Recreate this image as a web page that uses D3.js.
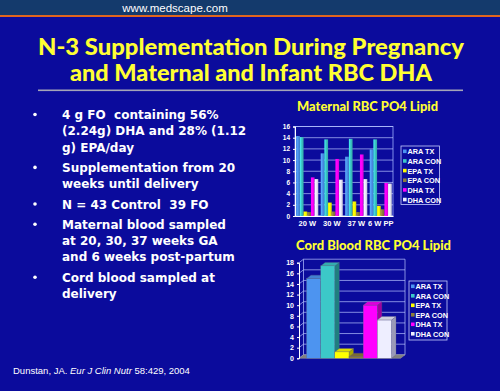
<!DOCTYPE html>
<html><head><meta charset="utf-8">
<script src="https://cdn.jsdelivr.net/npm/d3@7"></script>
<style>html,body{margin:0;padding:0;background:#0b0b9c;}svg{display:block;}text{white-space:pre;}</style>
</head><body>
<script>
// ---- data ----
const seriesNames = ["ARA TX","ARA CON","EPA TX","EPA CON","DHA TX","DHA CON"];
const seriesColors = ["#4d94f0","#3cc8c8","#ffff00","#8c7d3c","#ff00ff","#eeeeff"];
const seriesSide = ["#2a5ea8","#1f7f7f","#a8a800","#5a5020","#a000a0","#9a9ab8"];
const maternalCategories = ["20 W","30 W","37 W","6 W PP"];
const araTx  = [14.3, 11.2, 10.6, 11.9];
const araCon = [14.1, 13.7, 13.8, 13.7];
const epaTx  = [0.8, 2.4, 2.6, 1.8];
const epaCon = [0.7, 0.8, 0.7, 1.2];
const dhaTx  = [6.9, 10.2, 11.0, 5.9];
const dhaCon = [6.6, 6.5, 6.6, 5.8];
const maternalTicks = [0,2,4,6,8,10,12,14,16];
const cordValues = [15.0, 17.4, 1.2, 0.3, 10.0, 7.2];
const cordTicks = [0,2,4,6,8,10,12,14,16,18];
const bullets = [
  ["4 g FO  containing 56%","(2.24g) DHA and 28% (1.12","g) EPA/day"],
  ["Supplementation from 20","weeks until delivery"],
  ["N = 43 Control  39 FO"],
  ["Maternal blood sampled","at 20, 30, 37 weeks GA","and 6 weeks post-partum"],
  ["Cord blood sampled at","delivery"]
];

const W=500,H=391;
const svg=d3.select("body").append("svg").attr("width",W).attr("height",H);
svg.append("rect").attr("width",W).attr("height",H).attr("fill","#0b0b9c");
// header bar
svg.append("rect").attr("width",W).attr("height",15).attr("fill","#143a6c");
svg.append("rect").attr("y",15).attr("width",W).attr("height",2).attr("fill","#e0661e");
svg.append("text").attr("x",175).attr("y",11.5).attr("text-anchor","middle")
  .attr("fill","#fff").attr("font-family","Liberation Sans, Arial").attr("font-size",11.5).text("www.medscape.com");

// title
const tf="Lato, 'Open Sans', sans-serif";
const bf="'DejaVu Sans', Verdana, sans-serif";
svg.append("text").attr("x",251).attr("y",55).attr("text-anchor","middle").attr("fill","#ffff33")
  .attr("font-family",tf).attr("font-weight","900").attr("font-size",22)
  .attr("textLength",426).attr("lengthAdjust","spacingAndGlyphs").text("N-3 Supplementation During Pregnancy");
svg.append("text").attr("x",251).attr("y",81).attr("text-anchor","middle").attr("fill","#ffff33")
  .attr("font-family",tf).attr("font-weight","900").attr("font-size",22)
  .attr("textLength",362).attr("lengthAdjust","spacingAndGlyphs").text("and Maternal and Infant RBC DHA");
svg.append("rect").attr("x",38).attr("y",89.5).attr("width",425).attr("height",1.6).attr("fill","#a6a6b8");

// bullets
let by=119;
const lineH=16.3, gap=4;
bullets.forEach(b=>{
  svg.append("circle").attr("cx",35).attr("cy",by-4.5).attr("r",1.8).attr("fill","#fff");
  b.forEach((l,i)=>{
    svg.append("text").attr("x",62).attr("y",by+i*lineH).attr("fill","#fff").attr("font-family",bf)
      .attr("font-weight","bold").attr("font-size",12).text(l);
  });
  by+=b.length*lineH+gap;
});

// footer
const ft=svg.append("text").attr("x",13).attr("y",374).attr("fill","#fff")
  .attr("font-family","Liberation Sans, Arial").attr("font-size",9.5);
ft.append("tspan").text("Dunstan, JA. ");
ft.append("tspan").attr("font-style","italic").text("Eur J Clin Nutr ");
ft.append("tspan").text("58:429, 2004");

// ---- Maternal chart ----
const cf="'Liberation Sans', Arial, sans-serif";
svg.append("text").attr("x",297).attr("y",111).attr("fill","#ffff33").attr("font-family",tf)
  .attr("font-weight","900").attr("font-size",12.5).attr("textLength",141).attr("lengthAdjust","spacingAndGlyphs")
  .text("Maternal RBC PO4 Lipid");
const mx=d3.scaleBand().domain(maternalCategories).range([295,393]).paddingInner(0.1).paddingOuter(0.05);
const my=d3.scaleLinear().domain([0,16]).range([216,126.5]);
const mSeries=[araTx,araCon,epaTx,epaCon,dhaTx,dhaCon];
const mInner=d3.scaleBand().domain(seriesNames).range([0,mx.bandwidth()]);
const mg=svg.append("g");
mg.append("rect").attr("x",295).attr("y",my(16)).attr("width",98).attr("height",my(0)-my(16))
  .attr("fill","none").attr("stroke","#9fb0ff").attr("stroke-width",0.8);
maternalTicks.forEach(t=>{
  mg.append("line").attr("x1",295).attr("x2",393).attr("y1",my(t)).attr("y2",my(t))
    .attr("stroke","#b8c4ff").attr("stroke-width",0.7);
});
const mAxis=d3.axisLeft(my).tickValues(maternalTicks).tickSize(2).tickFormat(d3.format("d"));
const ma=svg.append("g").attr("transform","translate(295,0)").call(mAxis);
ma.select(".domain").attr("stroke","#fff");
ma.selectAll("line").attr("stroke","#fff");
ma.selectAll("text").attr("fill","#fff").attr("font-family",cf).attr("font-weight","bold").attr("font-size",6.5);
const defs=svg.append("defs");
seriesColors.forEach((c,i)=>{
  const g=defs.append("linearGradient").attr("id","g"+i).attr("x1","0").attr("x2","1").attr("y1","0").attr("y2","0");
  g.append("stop").attr("offset","0").attr("stop-color",d3.color(c).brighter(0.6));
  g.append("stop").attr("offset","0.45").attr("stop-color",c);
  g.append("stop").attr("offset","1").attr("stop-color",d3.color(c).darker(0.5));
});
maternalCategories.forEach((cat,ci)=>{
  mSeries.forEach((s,si)=>{
    mg.append("rect").attr("x",mx(cat)+mInner(seriesNames[si])).attr("y",my(s[ci]))
      .attr("width",mInner.bandwidth()).attr("height",my(0)-my(s[ci])).attr("fill","url(#g"+si+")");
  });
});
const mxa=svg.append("g").attr("transform","translate(0,216)").call(d3.axisBottom(mx).tickSize(0));
mxa.select(".domain").attr("stroke","#fff");
mxa.selectAll("text").attr("fill","#fff").attr("font-family",cf).attr("font-weight","bold").attr("font-size",7.5).attr("dy","0.9em");

function legend(x,y,w,h,y0,step){
  svg.append("rect").attr("x",x).attr("y",y).attr("width",w).attr("height",h).attr("fill","none")
    .attr("stroke","#c8d0ff").attr("stroke-width",0.8);
  seriesNames.forEach((n,i)=>{
    svg.append("rect").attr("x",x+2).attr("y",y0+i*step-2.2).attr("width",3.6).attr("height",3.6).attr("fill",seriesColors[i]);
    svg.append("text").attr("x",x+6.5).attr("y",y0+i*step+2.6).attr("fill","#fff").attr("font-family",cf)
      .attr("font-weight","bold").attr("font-size",7.3).text(n);
  });
}
legend(401,146,38.5,58.5,151.7,9.65);

// ---- Cord chart ----
svg.append("text").attr("x",296).attr("y",250).attr("fill","#ffff33").attr("font-family",tf)
  .attr("font-weight","900").attr("font-size",12.5).attr("textLength",155).attr("lengthAdjust","spacingAndGlyphs")
  .text("Cord Blood RBC PO4 Lipid");
const cy=d3.scaleLinear().domain([0,18]).range([358.3,262.7]);
const cx=d3.scaleBand().domain(seriesNames).range([306.5,391.5]).padding(0);
const dx=4.5, dy=-3.5;
const cg=svg.append("g");
cordTicks.forEach(t=>{
  cg.append("line").attr("x1",299+dx).attr("x2",405).attr("y1",cy(t)+dy).attr("y2",cy(t)+dy)
    .attr("stroke","#b8c4ff").attr("stroke-width",0.7);
  cg.append("line").attr("x1",299).attr("x2",299+dx).attr("y1",cy(t)).attr("y2",cy(t)+dy)
    .attr("stroke","#b8c4ff").attr("stroke-width",0.7);
});
cg.append("line").attr("x1",299+dx).attr("x2",299+dx).attr("y1",cy(0)+dy).attr("y2",cy(18)+dy).attr("stroke","#b8c4ff").attr("stroke-width",0.7);
cg.append("line").attr("x1",405).attr("x2",405).attr("y1",cy(0)+dy).attr("y2",cy(18)+dy).attr("stroke","#b8c4ff").attr("stroke-width",0.7);
cg.append("path").attr("d",`M299,${cy(0)}L${405-dx},${cy(0)}L405,${cy(0)+dy}L${299+dx},${cy(0)+dy}Z`)
  .attr("fill","#808080").attr("stroke","#a0a0a0").attr("stroke-width",0.5);
const cAxis=d3.axisLeft(cy).tickValues(cordTicks).tickSize(2).tickFormat(d3.format("d"));
const ca=svg.append("g").attr("transform","translate(299,0)").call(cAxis);
ca.select(".domain").attr("stroke","#fff");
ca.selectAll("line").attr("stroke","#fff");
ca.selectAll("text").attr("fill","#fff").attr("font-family",cf).attr("font-weight","bold").attr("font-size",7);
cordValues.forEach((v,i)=>{
  const x0=cx(seriesNames[i]), w=cx.bandwidth(), yt=cy(v), yb=cy(0);
  cg.append("path").attr("d",`M${x0+w},${yb}L${x0+w+dx},${yb+dy}L${x0+w+dx},${yt+dy}L${x0+w},${yt}Z`)
    .attr("fill",seriesSide[i]).attr("stroke","#606080").attr("stroke-width",0.3);
  cg.append("path").attr("d",`M${x0},${yt}L${x0+dx},${yt+dy}L${x0+w+dx},${yt+dy}L${x0+w},${yt}Z`)
    .attr("fill",d3.color(seriesColors[i]).darker(0.4)).attr("stroke","#606080").attr("stroke-width",0.3);
  cg.append("rect").attr("x",x0).attr("y",yt).attr("width",w).attr("height",yb-yt)
    .attr("fill",seriesColors[i]).attr("stroke","#606080").attr("stroke-width",0.3);
});
legend(409,281,38,59,286.7,9.5);
</script>
</body></html>
